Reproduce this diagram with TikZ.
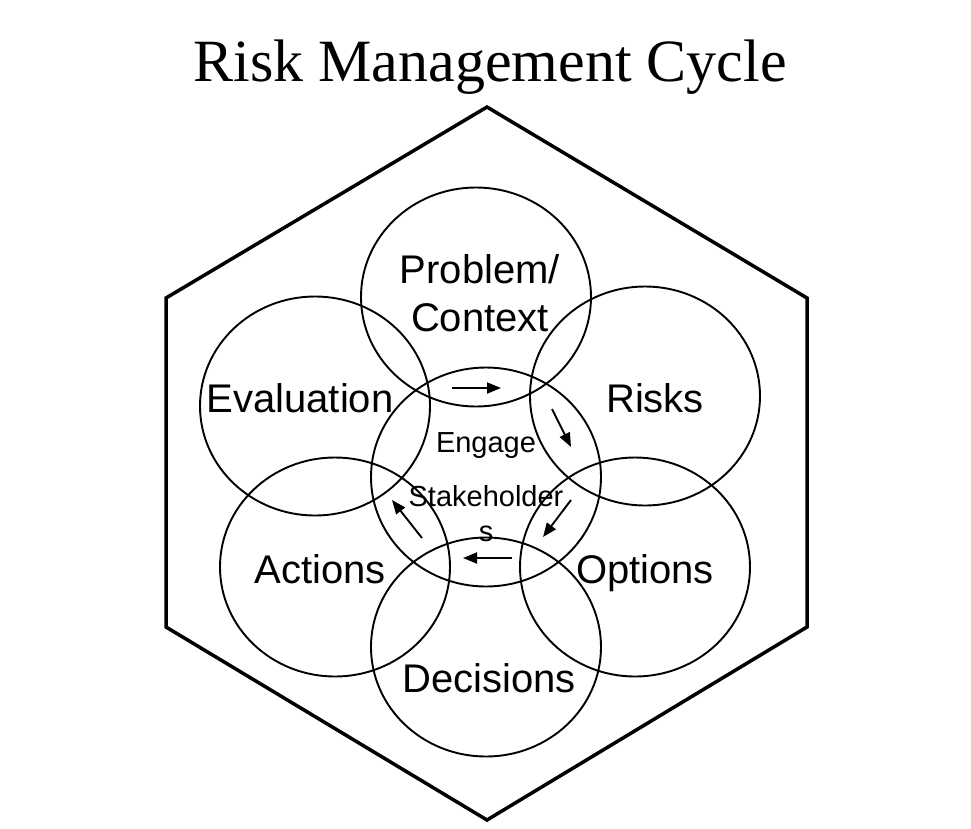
\documentclass[tikz,border=0pt]{standalone}
\usepackage{fontspec}
\setmainfont{Liberation Sans}
\newfontfamily\titlefont{Liberation Serif}
\usetikzlibrary{shapes.geometric,arrows.meta,positioning}

\begin{document}
\begin{tikzpicture}[x=1pt, y=-1pt]
    \tikzset{
        ring/.style      =   { ellipse
                             , draw=black
                             , line width=1.9pt
                             , minimum width=230pt
                             , minimum height=219pt
                             , inner sep=0pt
        }
        , lbl/.style     =   { font=\fontsize{40}{48}\selectfont
                             , align=center
                             , inner sep=0pt
        }
        , small/.style   =   { font=\fontsize{29}{35}\selectfont
                             , align=center
                             , inner sep=0pt
        }
        , hexline/.style =   { line width=3.5pt
                             , line join=miter
        }
        , arrow/.style   =   { line width=1.9pt
                             , -{Triangle[length=14pt, width=11pt]}
        }
    }
    \useasboundingbox (0,0) rectangle (971,828);

    % title
    \node(title)[anchor=base, inner sep=0pt, font=\titlefont\fontsize{60}{72}\selectfont]
        at (490,81) {Risk Management Cycle};

    % outer hexagon
    \draw[hexline] (487,107) -- (807,298) -- (807,627) -- (487,820)
                -- (166,627) -- (166,298) -- cycle;

    % the seven rings
    \node(prob)[ring] at (476,297) {};
    \node(eval)[ring] at (315,406) {};
    \node(risk)[ring] at (645,396) {};
    \node(eng) [ring] at (486,477) {};
    \node(act) [ring] at (335,567) {};
    \node(opt) [ring] at (635,567) {};
    \node(dec) [ring] at (486,647) {};

    % labels
    \node(probl)[lbl] at (480,293) {Problem/\\Context};
    \node(evall)[lbl, anchor=base] at (300,412) {Evaluation};
    \node(riskl)[lbl, anchor=base] at (655,412) {Risks};
    \node(actl) [lbl, anchor=base] at (320,583) {Actions};
    \node(optl) [lbl, anchor=base] at (645,583) {Options};
    \node(decl) [lbl, anchor=base] at (489,692) {Decisions};
    \node(engl) [small, anchor=base] at (486,452) {Engage};
    \node(stkl) [small] at (486,514) {Stakeholder\\s};

    % cycle arrows
    \coordinate(a1) at (452,388);
    \coordinate(b1) at (501,388);
    \coordinate(a2) at (552,409);
    \coordinate(b2) at (571,447);
    \coordinate(a3) at (571,500);
    \coordinate(b3) at (543,537);
    \coordinate(a4) at (512,558);
    \coordinate(b4) at (463,558);
    \coordinate(a5) at (422,538);
    \coordinate(b5) at (392,500);

    \draw[arrow] (a1) -- (b1);
    \draw[arrow] (a2) -- (b2);
    \draw[arrow] (a3) -- (b3);
    \draw[arrow] (a4) -- (b4);
    \draw[arrow] (a5) -- (b5);
\end{tikzpicture}
\end{document}
